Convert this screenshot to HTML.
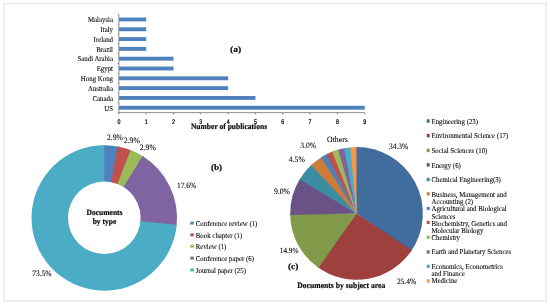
<!DOCTYPE html><html><head><meta charset="utf-8"><title>Figure</title><style>html,body{margin:0;padding:0;background:#fff}svg{display:block}text{text-rendering:geometricPrecision;font-family:"Liberation Serif","Times New Roman",serif;fill:#000;stroke:#000;stroke-width:0.08px}.b{font-weight:bold;stroke-width:0.15px}.s{font-family:"Liberation Sans",Arial,sans-serif;stroke-width:0.22px}</style></head><body>
<svg width="550" height="306" viewBox="0 0 550 306">
<rect x="0" y="0" width="550" height="306" fill="#fff"/>
<rect x="4.0" y="3.55" width="542" height="297.45" fill="none" stroke="#e9e9e9" stroke-width="1.4"/>
<rect x="118.9" y="17.50" width="27.31" height="3.9" fill="#4f81bd"/>
<text transform="translate(113.00 22.25) scale(1 1.08)" text-anchor="end" font-size="6.85">Malaysia</text>
<rect x="118.9" y="27.31" width="27.31" height="3.9" fill="#4f81bd"/>
<text transform="translate(113.00 32.06) scale(1 1.08)" text-anchor="end" font-size="6.85">Italy</text>
<rect x="118.9" y="37.12" width="27.31" height="3.9" fill="#4f81bd"/>
<text transform="translate(113.00 41.87) scale(1 1.08)" text-anchor="end" font-size="6.85">Ireland</text>
<rect x="118.9" y="46.93" width="27.31" height="3.9" fill="#4f81bd"/>
<text transform="translate(113.00 51.68) scale(1 1.08)" text-anchor="end" font-size="6.85">Brazil</text>
<rect x="118.9" y="56.74" width="54.62" height="3.9" fill="#4f81bd"/>
<text transform="translate(113.00 61.49) scale(1 1.08)" text-anchor="end" font-size="6.85">Saudi Arabia</text>
<rect x="118.9" y="66.55" width="54.62" height="3.9" fill="#4f81bd"/>
<text transform="translate(113.00 71.30) scale(1 1.08)" text-anchor="end" font-size="6.85">Egypt</text>
<rect x="118.9" y="76.36" width="109.24" height="3.9" fill="#4f81bd"/>
<text transform="translate(113.00 81.11) scale(1 1.08)" text-anchor="end" font-size="6.85">Hong Kong</text>
<rect x="118.9" y="86.17" width="109.24" height="3.9" fill="#4f81bd"/>
<text transform="translate(113.00 90.92) scale(1 1.08)" text-anchor="end" font-size="6.85">Australia</text>
<rect x="118.9" y="95.98" width="136.55" height="3.9" fill="#4f81bd"/>
<text transform="translate(113.00 100.73) scale(1 1.08)" text-anchor="end" font-size="6.85">Canada</text>
<rect x="118.9" y="105.79" width="245.79" height="3.9" fill="#4f81bd"/>
<text transform="translate(113.00 110.54) scale(1 1.08)" text-anchor="end" font-size="6.85">US</text>
<path d="M118.9 14.35 V112.65 H364.69" fill="none" stroke="#808080" stroke-width="0.9"/>
<path d="M117.60000000000001 14.35H118.9M117.60000000000001 24.18H118.9M117.60000000000001 34.01H118.9M117.60000000000001 43.84H118.9M117.60000000000001 53.67H118.9M117.60000000000001 63.50H118.9M117.60000000000001 73.33H118.9M117.60000000000001 83.16H118.9M117.60000000000001 92.99H118.9M117.60000000000001 102.82H118.9M117.60000000000001 112.65H118.9M118.90 112.65V114.45M146.21 112.65V114.45M173.52 112.65V114.45M200.83 112.65V114.45M228.14 112.65V114.45M255.45 112.65V114.45M282.76 112.65V114.45M310.07 112.65V114.45M337.38 112.65V114.45M364.69 112.65V114.45" fill="none" stroke="#808080" stroke-width="0.9"/>
<text transform="translate(118.90 123.6) scale(0.88 1.12)" class="s" text-anchor="middle" font-size="6">0</text>
<text transform="translate(146.21 123.6) scale(0.88 1.12)" class="s" text-anchor="middle" font-size="6">1</text>
<text transform="translate(173.52 123.6) scale(0.88 1.12)" class="s" text-anchor="middle" font-size="6">2</text>
<text transform="translate(200.83 123.6) scale(0.88 1.12)" class="s" text-anchor="middle" font-size="6">3</text>
<text transform="translate(228.14 123.6) scale(0.88 1.12)" class="s" text-anchor="middle" font-size="6">4</text>
<text transform="translate(255.45 123.6) scale(0.88 1.12)" class="s" text-anchor="middle" font-size="6">5</text>
<text transform="translate(282.76 123.6) scale(0.88 1.12)" class="s" text-anchor="middle" font-size="6">6</text>
<text transform="translate(310.07 123.6) scale(0.88 1.12)" class="s" text-anchor="middle" font-size="6">7</text>
<text transform="translate(337.38 123.6) scale(0.88 1.12)" class="s" text-anchor="middle" font-size="6">8</text>
<text transform="translate(364.69 123.6) scale(0.88 1.12)" class="s" text-anchor="middle" font-size="6">9</text>
<text transform="translate(190.90 128.60) scale(1 1.08)" class="b" font-size="7.56">Number of publications</text>
<text transform="translate(230.1 51.8) scale(1.15 1)" class="b" font-size="8.4">(a)</text>
<path d="M104.3 217.95L102.40 145.22A72.75 72.75 0 0 1 119.54 146.81Z" fill="#4f81bd"/>
<path d="M104.3 217.95L117.67 146.44A72.75 72.75 0 0 1 132.35 150.82Z" fill="#c0504d"/>
<path d="M104.3 217.95L130.58 150.11A72.75 72.75 0 0 1 144.20 157.12Z" fill="#9bbb59"/>
<path d="M104.3 217.95L142.60 156.10A72.75 72.75 0 0 1 176.54 226.56Z" fill="#8064a2"/>
<path d="M104.3 217.95L176.74 224.66A72.75 72.75 0 1 1 104.30 145.20Z" fill="#4bacc6"/>
<circle cx="104.3" cy="217.75" r="36.3" fill="#fff"/>
<text transform="translate(114.90 139.80) scale(1 1.06)" text-anchor="middle" font-size="7.7">2.9%</text>
<text transform="translate(131.80 142.60) scale(1 1.06)" text-anchor="middle" font-size="7.7">2.9%</text>
<text transform="translate(147.80 149.50) scale(1 1.06)" text-anchor="middle" font-size="7.7">2.9%</text>
<text transform="translate(186.50 187.60) scale(1 1.09)" text-anchor="middle" font-size="7.4">17.6%</text>
<text transform="translate(41.90 276.10) scale(1 1.09)" text-anchor="middle" font-size="7.5">73.5%</text>
<text transform="translate(104.50 214.60) scale(1 1.08)" class="b" text-anchor="middle" font-size="7.55">Documents</text>
<text transform="translate(104.50 224.20) scale(1 1.08)" class="b" text-anchor="middle" font-size="7.55">by type</text>
<text transform="translate(211.0 170.0) scale(1.09 1)" class="b" font-size="8.4">(b)</text>
<rect x="190.3" y="221.65" width="3.5" height="2.9" fill="#4f81bd"/>
<text transform="translate(195.80 225.80) scale(1 1.08)" font-size="6.85">Conference review (1)</text>
<rect x="190.3" y="233.40" width="3.5" height="2.9" fill="#c0504d"/>
<text transform="translate(195.80 237.55) scale(1 1.08)" font-size="6.85">Book chapter (1)</text>
<rect x="190.3" y="244.75" width="3.5" height="2.9" fill="#9bbb59"/>
<text transform="translate(195.80 248.90) scale(1 1.08)" font-size="6.85">Review (1)</text>
<rect x="190.3" y="256.65" width="3.5" height="2.9" fill="#8064a2"/>
<text transform="translate(195.80 260.80) scale(1 1.08)" font-size="6.85">Conference paper (6)</text>
<rect x="190.3" y="268.55" width="3.5" height="2.9" fill="#4bacc6"/>
<text transform="translate(195.80 272.70) scale(1 1.08)" font-size="6.85">Journal paper (25)</text>
<path d="M356.5 213.45L354.76 147.12A66.35 66.35 0 0 1 410.80 251.58Z" fill="#416c9e"/>
<path d="M356.5 213.45L411.78 250.15A66.35 66.35 0 0 1 317.10 266.84Z" fill="#9e403e"/>
<path d="M356.5 213.45L318.51 267.85A66.35 66.35 0 0 1 290.15 213.27Z" fill="#809a4a"/>
<path d="M356.5 213.45L290.17 215.01A66.35 66.35 0 0 1 300.48 177.90Z" fill="#6a5287"/>
<path d="M356.5 213.45L299.56 179.38A66.35 66.35 0 0 1 312.55 163.75Z" fill="#3c8da3"/>
<path d="M356.5 213.45L311.26 164.91A66.35 66.35 0 0 1 322.59 156.42Z" fill="#cc7b38"/>
<path d="M356.5 213.45L321.11 157.33A66.35 66.35 0 0 1 328.08 153.50Z" fill="#4f81bd"/>
<path d="M356.5 213.45L326.52 154.26A66.35 66.35 0 0 1 333.82 151.10Z" fill="#c0504d"/>
<path d="M356.5 213.45L332.19 151.71A66.35 66.35 0 0 1 339.75 149.25Z" fill="#9bbb59"/>
<path d="M356.5 213.45L338.08 149.71A66.35 66.35 0 0 1 345.84 147.96Z" fill="#8064a2"/>
<path d="M356.5 213.45L344.13 148.26A66.35 66.35 0 0 1 352.02 147.25Z" fill="#4bacc6"/>
<path d="M356.5 213.45L350.29 147.39A66.35 66.35 0 0 1 356.50 147.10Z" fill="#f79646"/>
<text transform="translate(398.55 149.20) scale(1 1.09)" text-anchor="middle" font-size="7.45">34.3%</text>
<text transform="translate(406.50 283.70) scale(1 1.09)" text-anchor="middle" font-size="7.45">25.4%</text>
<text transform="translate(289.10 252.70) scale(1 1.09)" text-anchor="middle" font-size="7.2">14.9%</text>
<text transform="translate(282.00 193.60) scale(1 1.06)" text-anchor="middle" font-size="7.7">9.0%</text>
<text transform="translate(296.80 161.50) scale(1 1.06)" text-anchor="middle" font-size="7.7">4.5%</text>
<text transform="translate(308.10 147.70) scale(1 1.06)" text-anchor="middle" font-size="7.65">3.0%</text>
<text transform="translate(337.45 141.90) scale(1 1.05)" text-anchor="middle" font-size="7.75">Others</text>
<text transform="translate(297.30 287.80) scale(1 1.08)" class="b" font-size="7.65">Documents by subject area</text>
<text transform="translate(287.9 268.9) scale(1.12 1)" class="b" font-size="8.4">(c)</text>
<rect x="426.7" y="119.25" width="3" height="3.5" fill="#416c9e"/>
<text transform="translate(431.50 123.60) scale(1 1.08)" font-size="6.85">Engineering (23)</text>
<rect x="426.7" y="133.85" width="3" height="3.5" fill="#9e403e"/>
<text transform="translate(431.50 138.20) scale(1 1.08)" font-size="6.85">Environmental Science (17)</text>
<rect x="426.7" y="148.65" width="3" height="3.5" fill="#809a4a"/>
<text transform="translate(431.50 153.00) scale(1 1.08)" font-size="6.85">Social Sciences (10)</text>
<rect x="426.7" y="163.15" width="3" height="3.5" fill="#6a5287"/>
<text transform="translate(431.50 167.50) scale(1 1.08)" font-size="6.85">Energy (6)</text>
<rect x="426.7" y="177.75" width="3" height="3.5" fill="#3c8da3"/>
<text transform="translate(431.50 182.10) scale(1 1.08)" font-size="6.85">Chemical Engineering(3)</text>
<rect x="426.7" y="192.20" width="3" height="3.3" fill="#cc7b38"/>
<text transform="translate(431.50 196.50) scale(1 1.08)" font-size="6.85">Business, Management and</text>
<text transform="translate(431.50 204.10) scale(1 1.08)" font-size="6.85">Accounting (2)</text>
<rect x="426.7" y="206.80" width="3" height="3.3" fill="#4f81bd"/>
<text transform="translate(431.50 211.30) scale(1 1.08)" font-size="6.85">Agricultural and Biological</text>
<text transform="translate(431.50 218.90) scale(1 1.08)" font-size="6.85">Sciences</text>
<rect x="426.7" y="220.80" width="3" height="3.3" fill="#c0504d"/>
<text transform="translate(431.50 225.80) scale(1 1.08)" font-size="6.85">Biochemistry, Genetics and</text>
<text transform="translate(431.50 233.20) scale(1 1.08)" font-size="6.85">Molecular Biology</text>
<rect x="426.7" y="235.60" width="3" height="3.3" fill="#9bbb59"/>
<text transform="translate(431.50 239.80) scale(1 1.08)" font-size="6.85">Chemistry</text>
<rect x="426.7" y="250.30" width="3" height="3.3" fill="#8064a2"/>
<text transform="translate(431.50 254.20) scale(1 1.08)" font-size="6.85">Earth and Planetary Sciences</text>
<rect x="426.7" y="264.70" width="3" height="3.3" fill="#4bacc6"/>
<text transform="translate(431.50 268.80) scale(1 1.08)" font-size="6.85">Economics, Econometrics</text>
<text transform="translate(431.50 276.40) scale(1 1.08)" font-size="6.85">and Finance</text>
<rect x="426.7" y="279.30" width="3" height="3.3" fill="#f79646"/>
<text transform="translate(431.50 283.40) scale(1 1.08)" font-size="6.85">Medicine</text>
</svg></body></html>
